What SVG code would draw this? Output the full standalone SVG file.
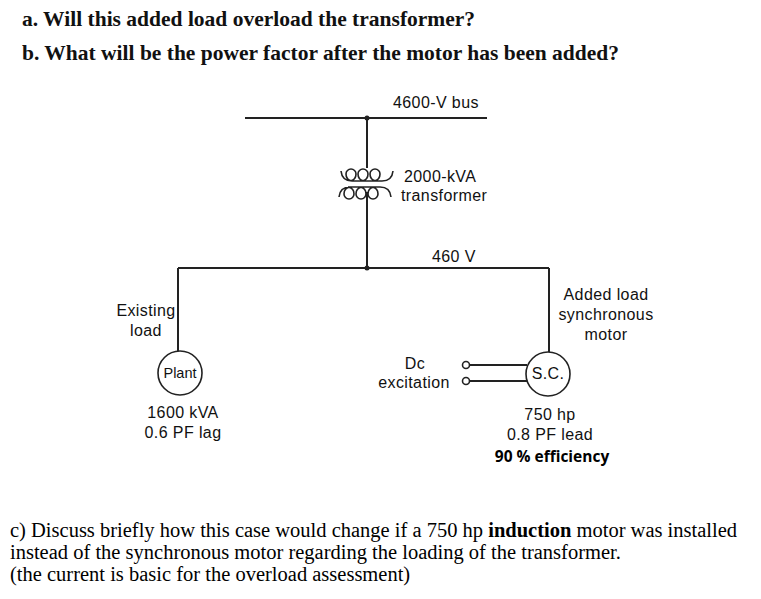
<svg xmlns="http://www.w3.org/2000/svg" width="761" height="599" viewBox="0 0 761 599">
<style>
.q{font-family:"Liberation Serif",serif;font-size:21.5px;font-weight:bold;fill:#111}
.c{font-family:"Liberation Serif",serif;font-size:20.5px;fill:#000}
.l{font-family:"Liberation Sans",sans-serif;font-size:16px;letter-spacing:0.4px;fill:#111}
.w{stroke:#222;stroke-width:2;fill:none}
.k{stroke:#222;stroke-width:1.6;fill:none}
.t{stroke:#222;stroke-width:1.6;fill:#fff}
</style>
<rect width="761" height="599" fill="#fff"/>
<text class="q" x="22" y="26">a.  Will this added load overload the transformer?</text>
<text class="q" x="22" y="60">b.  What will be the power factor after the motor has been added?</text>
<g id="connectors">
<path class="w" d="M245 118H487M367 118V168M367 192V268M178 268H549M178 268V351M549 268V352"/>
<path class="w" d="M470 365H527M470 381H527"/>
<circle cx="367" cy="118" r="2.5" fill="#222"/>
<circle cx="367" cy="268" r="2.5" fill="#222"/>
</g>
<g id="bus"><text class="l" x="393" y="108">4600-V bus</text></g>
<g id="transformer">
<path class="k" d="M341 171Q342 181 352 181Q346 180 346 174A5 5 0 0 1 356 174Q356 180 350 181H364Q358 180 358 174A5 5 0 0 1 368 174Q368 180 362 181H376Q370 180 370 174A5 5 0 0 1 380 174Q380 180 374 181H382Q392 181 393 171"/>
<path class="k" d="M339 197Q340 187 350 187Q344 188 344 194A5 5 0 0 0 354 194Q354 188 348 187H362Q356 188 356 194A5 5 0 0 0 366 194Q366 188 360 187H374Q368 188 368 194A5 5 0 0 0 378 194Q378 188 372 187H380Q390 187 391 197"/>
<text class="l" x="404" y="182">2000-kVA</text>
<text class="l" x="401" y="201">transformer</text>
</g>
<g id="lv"><text class="l" x="432" y="262">460 V</text></g>
<g id="plant">
<circle class="t" cx="180" cy="373" r="22"/>
<text class="l" x="180" y="378" text-anchor="middle" style="font-size:14.5px;letter-spacing:0">Plant</text>
<text class="l" x="146" y="316" text-anchor="middle">Existing</text>
<text class="l" x="146" y="336" text-anchor="middle">load</text>
<text class="l" x="183" y="418" text-anchor="middle">1600 kVA</text>
<text class="l" x="183" y="438" text-anchor="middle">0.6 PF lag</text>
</g>
<g id="motor">
<circle class="t" cx="548" cy="374" r="22"/>
<text class="l" x="548" y="379" text-anchor="middle">S.C.</text>
<text class="l" x="606" y="300" text-anchor="middle">Added load</text>
<text class="l" x="606" y="320" text-anchor="middle">synchronous</text>
<text class="l" x="606" y="340" text-anchor="middle">motor</text>
<text class="l" x="550" y="420" text-anchor="middle">750 hp</text>
<text class="l" x="550" y="440" text-anchor="middle">0.8 PF lead</text>
<text x="552" y="462" text-anchor="middle" style="font-family:'Open Sans',sans-serif;font-size:15.5px;font-weight:bold">90 % efficiency</text>
</g>
<g id="excitation">
<circle class="t" cx="466" cy="365" r="3.5"/>
<circle class="t" cx="466" cy="381" r="3.5"/>
<text class="l" x="415" y="369" text-anchor="middle">Dc</text>
<text class="l" x="414" y="388" text-anchor="middle">excitation</text>
</g>
<text class="c" x="10" y="537">c)  Discuss briefly how this case would change if a 750 hp <tspan font-weight="bold">induction</tspan> motor was installed</text>
<text class="c" x="10" y="559">instead of the synchronous motor regarding the loading of the transformer.</text>
<text class="c" x="10" y="581">(the current is basic for the overload assessment)</text>
</svg>
